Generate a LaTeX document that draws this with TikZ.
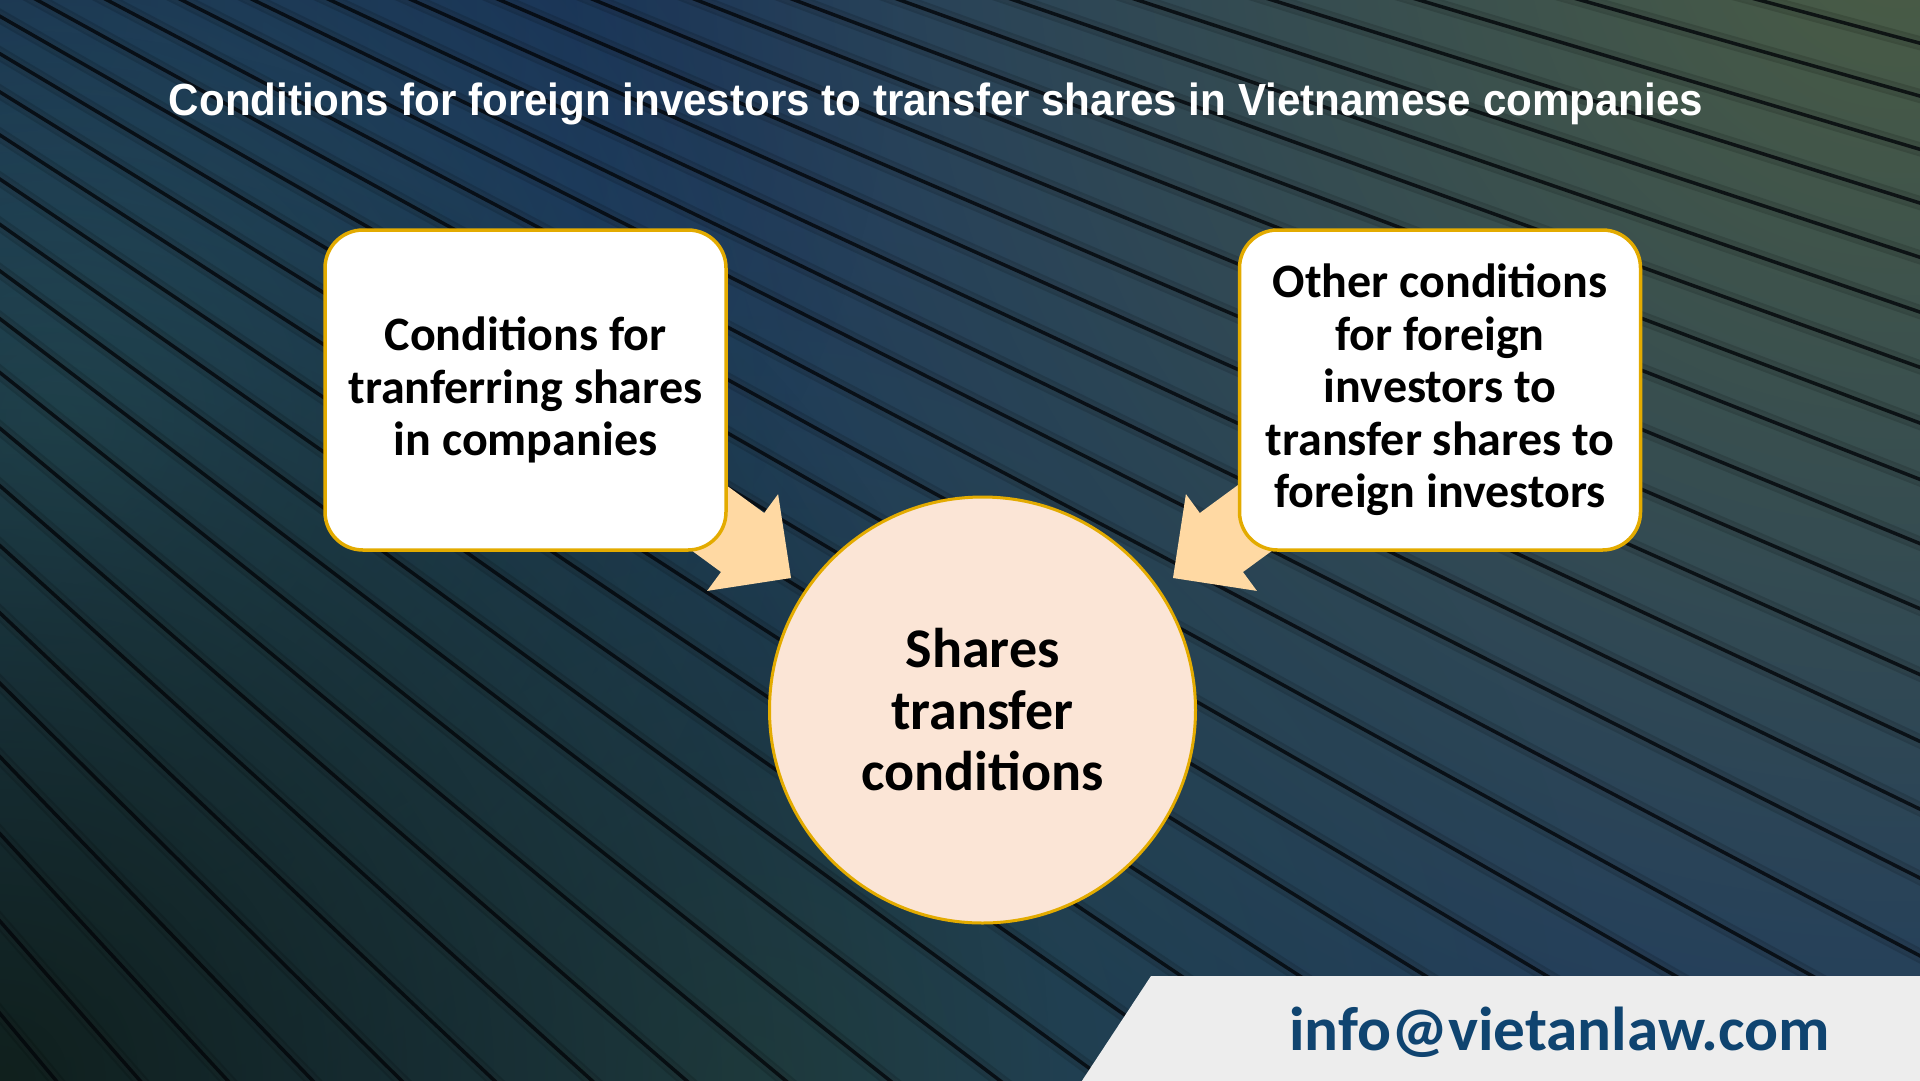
\documentclass[tikz,border=0pt]{standalone}
\usepackage{fontspec}
\setmainfont{Carlito}
\newfontfamily\titlefont{Liberation Sans}
\usetikzlibrary{fadings}
\definecolor{bgbase}{HTML}{1C3960}
\definecolor{bggreen}{HTML}{4B5D45}
\definecolor{bgteal}{HTML}{2B5866}
\definecolor{bgdark}{HTML}{10201D}
\definecolor{bgmoss}{HTML}{27483E}
\definecolor{bgdeep}{HTML}{152848}
\definecolor{gold}{HTML}{E3AB00}
\definecolor{arrowfill}{HTML}{FFD9A3}
\definecolor{peach}{HTML}{FBE5D6}
\definecolor{mailblue}{HTML}{0F4470}
\definecolor{panelgray}{HTML}{EDEDED}
\tikzfading[name=glow, inner color=transparent!0, outer color=transparent!100]
\tikzset{
  glowfill/.style={fill=#1, path fading=glow},
  stripeshadow/.style={draw=black, line width=14pt, opacity=0.14},
  stripelight/.style={draw=white, line width=10pt, opacity=0.02},
  stripecore/.style={draw=black!90!bgbase, line width=3.5pt, opacity=0.8},
  infobox/.style={rectangle, rounded corners=38pt, draw=gold, line width=3.5pt, fill=white,
    minimum width=401pt, minimum height=320pt, inner sep=0pt, align=center, text=black,
    font=\bfseries\fontsize{48}{52.5}\selectfont},
  hub/.style={circle, draw=gold, line width=3pt, fill=peach, minimum size=426pt, inner sep=0pt,
    align=center, text=black, font=\bfseries\fontsize{56}{61.5}\selectfont},
  blockarrow/.style={fill=arrowfill},
}
\begin{document}
\begin{tikzpicture}[x=1pt,y=-1pt]
\useasboundingbox (0,0) rectangle (1920,1080);
% ---------- background ----------
\begin{scope}
\clip (-5,-5) rectangle (1925,1085);
\fill[bgbase] (-5,-5) rectangle (1925,1085);
\fill[glowfill=bgdeep] (0,0) circle (900);
\fill[glowfill=bggreen] (1900,-80) circle (1350);
\fill[glowfill=bgteal, opacity=0.85] (60,420) circle (750);
\fill[glowfill=bgmoss, opacity=0.7] (750,1080) circle (850);
\fill[glowfill=bgdark] (0,1080) circle (1050);
\coordinate (P) at (-1600,-900);
\foreach \a in {15.0,15.8,16.6,17.4,18.2,19.0,19.8,20.6,21.4,22.3,23.2,24.1,25.0,25.9,26.8,27.8,28.8,29.8,30.8,31.8,32.9,34.0,35.1,36.2,37.3,38.5,39.7,40.9,42.1,43.4,44.7,46.0,47.3,48.7,50.1}{
  \draw[stripelight, shift={(0,-12)}] (P) -- +(\a:6000);
  \draw[stripeshadow, shift={(0,5)}] (P) -- +(\a:6000);
  \draw[stripecore] (P) -- +(\a:6000);
}
\end{scope}
% ---------- contact panel ----------
\fill[panelgray] (1151,976) -- (1930,976) -- (1930,1090) -- (1075.9,1090) -- cycle;
\node[anchor=base, text=mailblue, inner sep=0pt] (mail) at (1559.5,1050)
  {\resizebox{541pt}{\height}{\bfseries\fontsize{62}{66}\selectfont info@vietanlaw.com}};
% ---------- title ----------
\node[anchor=base, text=white, inner sep=0pt] (title) at (936,115)
  {\resizebox{1534pt}{\height}{\titlefont\bfseries\fontsize{45}{48}\selectfont Conditions for foreign investors to transfer shares in Vietnamese companies}};
% ---------- block arrows ----------
\coordinate (aLt1) at (635.1,418.4);
\coordinate (aLn1) at (764.2,513.0);
\coordinate (aLb1) at (778.1,494.1);
\coordinate (aLtip) at (791,578);
\coordinate (aLb2) at (707.1,590.9);
\coordinate (aLn2) at (721.0,572.0);
\coordinate (aLt2) at (591.9,477.4);
\fill[blockarrow] (aLt1) -- (aLn1) -- (aLb1) -- (aLtip) -- (aLb2) -- (aLn2) -- (aLt2) -- cycle;
\coordinate (aRt1) at (1328.9,418.4);
\coordinate (aRn1) at (1199.8,513.0);
\coordinate (aRb1) at (1185.9,494.1);
\coordinate (aRtip) at (1173,578);
\coordinate (aRb2) at (1256.9,590.9);
\coordinate (aRn2) at (1243.0,572.0);
\coordinate (aRt2) at (1372.1,477.4);
\fill[blockarrow] (aRt1) -- (aRn1) -- (aRb1) -- (aRtip) -- (aRb2) -- (aRn2) -- (aRt2) -- cycle;
% ---------- boxes ----------
\node[infobox] (left) at (525.5,390) {Conditions for\\tranferring shares\\in companies};
\node[infobox] (right) at (1440,390) {Other conditions\\for foreign\\investors to\\transfer shares to\\foreign investors};
\node[hub] (hubnode) at (982.5,710) {Shares\\transfer\\conditions};
\end{tikzpicture}
\end{document}
